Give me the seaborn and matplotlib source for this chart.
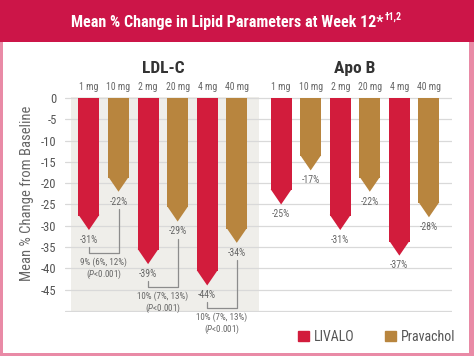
import matplotlib
matplotlib.use('Agg')
import matplotlib.pyplot as plt
from matplotlib.patches import Polygon, Rectangle, Patch
from matplotlib import font_manager
import seaborn as sns
import pandas as pd

# ------------------------------------------------------------------
# data
# ------------------------------------------------------------------
doses = ['1 mg', '10 mg', '2 mg', '20 mg', '4 mg', '40 mg']
drugs = ['LIVALO', 'Pravachol', 'LIVALO', 'Pravachol', 'LIVALO', 'Pravachol']
ldl_change = [-31, -22, -39, -29, -44, -34]
apob_change = [-25, -17, -31, -22, -37, -28]
ldl_diff = ['9% (6%, 12%)', '10% (7%, 13%)', '10% (7%, 13%)']
ldl_p = ['<0.001', '<0.001', '<0.001']
groups = ['LDL-C', 'Apo B']

colors = {'LIVALO': '#d21c3c', 'Pravachol': '#b8853e'}
crimson = '#cc1548'
pink = '#e98aa6'
gray_txt = '#666666'

# ------------------------------------------------------------------
# fonts / style
# ------------------------------------------------------------------
sns.set_theme(style='white')
available = {f.name for f in font_manager.fontManager.ttflist}
narrow = next((f for f in ['Liberation Sans Narrow', 'Roboto Condensed', 'Open Sans Condensed']
               if f in available), 'Liberation Sans')
plt.rcParams['font.family'] = [narrow, 'DejaVu Sans']
plt.rcParams['mathtext.fontset'] = 'custom'
plt.rcParams['mathtext.rm'] = narrow
plt.rcParams['mathtext.it'] = narrow + ':italic'

ldl_pos = list(range(6))
apob_pos = [6.5 + i for i in range(6)]
df = pd.DataFrame({
    'pos': ldl_pos + apob_pos,
    'change': ldl_change + apob_change,
    'drug': drugs * 2,
    'dose': doses * 2,
})

W, H = 474, 356
fig = plt.figure(figsize=(W / 100, H / 100), dpi=100, facecolor=pink)
fig.patches.append(Rectangle((3 / W, 3 / H), (469 - 3) / W, (314 - 3) / H,
                             transform=fig.transFigure, facecolor='white', lw=0, zorder=-2))
fig.patches.append(Rectangle((0, 314 / H), 1, 42 / H, transform=fig.transFigure,
                             facecolor=crimson, lw=0, zorder=-2))

# title with superscript
renderer = fig.canvas.get_renderer()
t_main = fig.text(0, 1 - 22 / H, 'Mean % Change in Lipid Parameters at Week 12*',
                  color='white', fontsize=11.5, fontweight='bold', va='center', ha='left')
t_sup = fig.text(0, 1 - 17 / H, '\u20201,2', color='white', fontsize=7,
                 fontweight='bold', va='center', ha='left')
w_main = t_main.get_window_extent(renderer).width
w_sup = t_sup.get_window_extent(renderer).width
x0 = (236 - (w_main + w_sup) / 2)
t_main.set_x(x0 / W)
t_sup.set_x((x0 + w_main + 1) / W)

# ------------------------------------------------------------------
# axes
# ------------------------------------------------------------------
ax = fig.add_axes([65 / W, 1 - 312.3 / H, (452 - 65) / W, (312.3 - 96.7) / H])
ax.set_facecolor('none')
ax.axvspan(-0.61, 5.75, color='#efeeea', lw=0, zorder=0)

n_before = len(ax.patches)
sns.barplot(data=df, x='pos', y='change', hue='drug', palette=colors, native_scale=True,
            dodge=False, width=0.71, errorbar=None, legend=False, saturation=1, ax=ax)
bars = ax.patches[n_before:]

# pointed ends
tip = 3.3
for bar in bars:
    bx, bw, bh = bar.get_x(), bar.get_width(), bar.get_height()
    if bh == 0:
        continue
    bar.set_height(bh + tip)
    bar.set_linewidth(0)
    bar.set_zorder(2)
    ax.add_patch(Polygon([(bx, bh + tip + 0.3), (bx + bw, bh + tip + 0.3), (bx + bw / 2, bh)],
                         closed=True, facecolor=bar.get_facecolor(), lw=0, zorder=2))
    ax.annotate(f'{bh:.0f}%', (bx + bw / 2, bh), xytext=(0, -3.5), textcoords='offset points',
                ha='center', va='top', fontsize=7, color=gray_txt)

# brackets with differences (LDL-C)
for i in range(3):
    xa, xb = ldl_pos[2 * i], ldl_pos[2 * i + 1]
    va, vb = ldl_change[2 * i], ldl_change[2 * i + 1]
    yb = min(va, vb) - 5.4
    ax.plot([xa, xa, xb, xb], [va - 4, yb, yb, vb - 4], color='#8c8c8c', lw=0.9,
            clip_on=False, zorder=3)
    ax.annotate(f'{ldl_diff[i]}\n($\\mathit{{P}}${ldl_p[i]})', ((xa + xb) / 2, yb),
                xytext=(0, -3), textcoords='offset points', ha='center', va='top',
                fontsize=6.5, color=gray_txt, linespacing=1.1, annotation_clip=False)

# dose labels and group headers
for p, d in zip(df['pos'], df['dose']):
    ax.text(p, 2.6, d, ha='center', va='center', fontsize=7, color=gray_txt, clip_on=False)
ax.text(2.5, 6.9, groups[0], ha='center', va='center', fontsize=12.5, fontweight='bold',
        color='#333333', clip_on=False)
ax.text(9.0, 6.9, groups[1], ha='center', va='center', fontsize=12.5, fontweight='bold',
        color='#333333', clip_on=False)

ax.set_xlim(-0.81, 12.28)
ax.set_ylim(-50.3, 0.3)
yt = list(range(0, -51, -5))
ax.set_yticks(yt)
ax.set_yticklabels([str(t) if t > -50 else '' for t in yt])
ax.set_xticks([])
ax.set_xlabel('')
ax.set_ylabel('')
ax.yaxis.grid(True, color='#d9d9d9', lw=0.9)
ax.set_axisbelow(True)
for s in ax.spines.values():
    s.set_visible(False)
ax.tick_params(axis='y', length=0, pad=6, labelsize=9, labelcolor='#555555')

fig.text(27 / W, 1 - 193 / H, 'Mean % Change from Baseline', rotation=90, ha='center',
         va='center', fontsize=10.5, color=gray_txt)

fig.legend(handles=[Patch(color=colors[d], label=d) for d in ['LIVALO', 'Pravachol']],
           loc='center', bbox_to_anchor=(377 / W, 1 - 337 / H), ncol=2, frameon=False,
           fontsize=10, handlelength=0.75, handleheight=0.75, handletextpad=0.4,
           columnspacing=2.2, labelcolor='#555555')

fig.savefig('out.png', dpi=100, facecolor=pink)
